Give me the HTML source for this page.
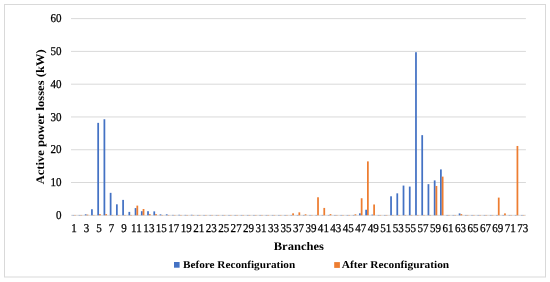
<!DOCTYPE html>
<html><head><meta charset="utf-8"><style>
html,body{margin:0;padding:0;background:#fff;}
text{text-rendering:geometricPrecision;}
body{width:550px;height:282px;overflow:hidden;position:relative;}
svg{position:absolute;left:0;top:0;}
.t{font-family:"Liberation Serif",serif;font-size:12px;fill:#000;stroke:#000;stroke-width:0.25px;}
.b{font-family:"Liberation Serif",serif;font-weight:bold;fill:#000;}
</style></head><body>
<svg width="550" height="282" viewBox="0 0 550 282">
<rect x="0" y="0" width="550" height="282" fill="#fff"/>
<rect x="4.5" y="4.5" width="541" height="272.5" fill="none" stroke="#d9d9d9" stroke-width="1"/>
<line x1="71.00" y1="215.30" x2="525.90" y2="215.30" stroke="#d9d9d9" stroke-width="1"/>
<text transform="translate(61.5,218.90) scale(0.92,1)" text-anchor="end" class="t">0</text>
<line x1="71.00" y1="182.52" x2="525.90" y2="182.52" stroke="#d9d9d9" stroke-width="1"/>
<text transform="translate(61.5,186.12) scale(0.92,1)" text-anchor="end" class="t">10</text>
<line x1="71.00" y1="149.74" x2="525.90" y2="149.74" stroke="#d9d9d9" stroke-width="1"/>
<text transform="translate(61.5,153.34) scale(0.92,1)" text-anchor="end" class="t">20</text>
<line x1="71.00" y1="116.96" x2="525.90" y2="116.96" stroke="#d9d9d9" stroke-width="1"/>
<text transform="translate(61.5,120.56) scale(0.92,1)" text-anchor="end" class="t">30</text>
<line x1="71.00" y1="84.18" x2="525.90" y2="84.18" stroke="#d9d9d9" stroke-width="1"/>
<text transform="translate(61.5,87.78) scale(0.92,1)" text-anchor="end" class="t">40</text>
<line x1="71.00" y1="51.40" x2="525.90" y2="51.40" stroke="#d9d9d9" stroke-width="1"/>
<text transform="translate(61.5,55.00) scale(0.92,1)" text-anchor="end" class="t">50</text>
<line x1="71.00" y1="18.62" x2="525.90" y2="18.62" stroke="#d9d9d9" stroke-width="1"/>
<text transform="translate(61.5,22.22) scale(0.92,1)" text-anchor="end" class="t">60</text>
<rect x="72.37" y="214.97" width="1.75" height="0.33" fill="#4472c4"/>
<rect x="74.12" y="214.97" width="1.75" height="0.33" fill="#ed7d31"/>
<text transform="translate(74.12,232.2) scale(0.92,1)" text-anchor="middle" class="t">1</text>
<rect x="78.60" y="214.97" width="1.75" height="0.33" fill="#4472c4"/>
<rect x="80.35" y="214.97" width="1.75" height="0.33" fill="#ed7d31"/>
<rect x="84.83" y="214.32" width="1.75" height="0.98" fill="#4472c4"/>
<rect x="86.58" y="214.64" width="1.75" height="0.66" fill="#ed7d31"/>
<text transform="translate(86.58,232.2) scale(0.92,1)" text-anchor="middle" class="t">3</text>
<rect x="91.06" y="209.24" width="1.75" height="6.06" fill="#4472c4"/>
<rect x="92.81" y="214.97" width="1.75" height="0.33" fill="#ed7d31"/>
<rect x="97.29" y="122.86" width="1.75" height="92.44" fill="#4472c4"/>
<rect x="99.04" y="214.15" width="1.75" height="1.15" fill="#ed7d31"/>
<text transform="translate(99.04,232.2) scale(0.92,1)" text-anchor="middle" class="t">5</text>
<rect x="103.52" y="119.25" width="1.75" height="96.05" fill="#4472c4"/>
<rect x="105.27" y="214.15" width="1.75" height="1.15" fill="#ed7d31"/>
<rect x="109.75" y="192.85" width="1.75" height="22.45" fill="#4472c4"/>
<rect x="111.50" y="214.97" width="1.75" height="0.33" fill="#ed7d31"/>
<text transform="translate(111.50,232.2) scale(0.92,1)" text-anchor="middle" class="t">7</text>
<rect x="115.99" y="204.32" width="1.75" height="10.98" fill="#4472c4"/>
<rect x="117.74" y="214.97" width="1.75" height="0.33" fill="#ed7d31"/>
<rect x="122.22" y="199.89" width="1.75" height="15.41" fill="#4472c4"/>
<rect x="123.97" y="214.97" width="1.75" height="0.33" fill="#ed7d31"/>
<text transform="translate(123.97,232.2) scale(0.92,1)" text-anchor="middle" class="t">9</text>
<rect x="128.45" y="211.89" width="1.75" height="3.41" fill="#4472c4"/>
<rect x="130.20" y="214.97" width="1.75" height="0.33" fill="#ed7d31"/>
<rect x="134.68" y="208.09" width="1.75" height="7.21" fill="#4472c4"/>
<rect x="136.43" y="205.60" width="1.75" height="9.70" fill="#ed7d31"/>
<text transform="translate(136.43,232.2) scale(0.92,1)" text-anchor="middle" class="t">11</text>
<rect x="140.91" y="211.20" width="1.75" height="4.10" fill="#4472c4"/>
<rect x="142.66" y="209.01" width="1.75" height="6.29" fill="#ed7d31"/>
<rect x="147.14" y="211.20" width="1.75" height="4.10" fill="#4472c4"/>
<rect x="148.89" y="214.15" width="1.75" height="1.15" fill="#ed7d31"/>
<text transform="translate(148.89,232.2) scale(0.92,1)" text-anchor="middle" class="t">13</text>
<rect x="153.38" y="211.37" width="1.75" height="3.93" fill="#4472c4"/>
<rect x="155.13" y="214.15" width="1.75" height="1.15" fill="#ed7d31"/>
<rect x="159.61" y="214.38" width="1.75" height="0.92" fill="#4472c4"/>
<rect x="161.36" y="214.97" width="1.75" height="0.33" fill="#ed7d31"/>
<text transform="translate(161.36,232.2) scale(0.92,1)" text-anchor="middle" class="t">15</text>
<rect x="165.84" y="214.32" width="1.75" height="0.98" fill="#4472c4"/>
<rect x="167.59" y="214.97" width="1.75" height="0.33" fill="#ed7d31"/>
<rect x="172.07" y="214.91" width="1.75" height="0.39" fill="#4472c4"/>
<rect x="173.82" y="214.97" width="1.75" height="0.33" fill="#ed7d31"/>
<text transform="translate(173.82,232.2) scale(0.92,1)" text-anchor="middle" class="t">17</text>
<rect x="178.30" y="214.81" width="1.75" height="0.49" fill="#4472c4"/>
<rect x="180.05" y="214.97" width="1.75" height="0.33" fill="#ed7d31"/>
<rect x="184.53" y="214.91" width="1.75" height="0.39" fill="#4472c4"/>
<rect x="186.28" y="214.97" width="1.75" height="0.33" fill="#ed7d31"/>
<text transform="translate(186.28,232.2) scale(0.92,1)" text-anchor="middle" class="t">19</text>
<rect x="190.76" y="214.81" width="1.75" height="0.49" fill="#4472c4"/>
<rect x="192.51" y="214.97" width="1.75" height="0.33" fill="#ed7d31"/>
<rect x="197.00" y="214.97" width="1.75" height="0.33" fill="#4472c4"/>
<rect x="198.75" y="214.97" width="1.75" height="0.33" fill="#ed7d31"/>
<text transform="translate(198.75,232.2) scale(0.92,1)" text-anchor="middle" class="t">21</text>
<rect x="203.23" y="214.97" width="1.75" height="0.33" fill="#4472c4"/>
<rect x="204.98" y="214.97" width="1.75" height="0.33" fill="#ed7d31"/>
<rect x="209.46" y="214.97" width="1.75" height="0.33" fill="#4472c4"/>
<rect x="211.21" y="214.97" width="1.75" height="0.33" fill="#ed7d31"/>
<text transform="translate(211.21,232.2) scale(0.92,1)" text-anchor="middle" class="t">23</text>
<rect x="215.69" y="214.97" width="1.75" height="0.33" fill="#4472c4"/>
<rect x="217.44" y="214.97" width="1.75" height="0.33" fill="#ed7d31"/>
<rect x="221.92" y="214.97" width="1.75" height="0.33" fill="#4472c4"/>
<rect x="223.67" y="214.97" width="1.75" height="0.33" fill="#ed7d31"/>
<text transform="translate(223.67,232.2) scale(0.92,1)" text-anchor="middle" class="t">25</text>
<rect x="228.15" y="214.97" width="1.75" height="0.33" fill="#4472c4"/>
<rect x="229.90" y="214.97" width="1.75" height="0.33" fill="#ed7d31"/>
<rect x="234.38" y="214.97" width="1.75" height="0.33" fill="#4472c4"/>
<rect x="236.13" y="214.97" width="1.75" height="0.33" fill="#ed7d31"/>
<text transform="translate(236.13,232.2) scale(0.92,1)" text-anchor="middle" class="t">27</text>
<rect x="240.62" y="214.97" width="1.75" height="0.33" fill="#4472c4"/>
<rect x="242.37" y="214.97" width="1.75" height="0.33" fill="#ed7d31"/>
<rect x="246.85" y="214.97" width="1.75" height="0.33" fill="#4472c4"/>
<rect x="248.60" y="214.97" width="1.75" height="0.33" fill="#ed7d31"/>
<text transform="translate(248.60,232.2) scale(0.92,1)" text-anchor="middle" class="t">29</text>
<rect x="253.08" y="214.97" width="1.75" height="0.33" fill="#4472c4"/>
<rect x="254.83" y="214.97" width="1.75" height="0.33" fill="#ed7d31"/>
<rect x="259.31" y="214.97" width="1.75" height="0.33" fill="#4472c4"/>
<rect x="261.06" y="214.97" width="1.75" height="0.33" fill="#ed7d31"/>
<text transform="translate(261.06,232.2) scale(0.92,1)" text-anchor="middle" class="t">31</text>
<rect x="265.54" y="214.97" width="1.75" height="0.33" fill="#4472c4"/>
<rect x="267.29" y="214.97" width="1.75" height="0.33" fill="#ed7d31"/>
<rect x="271.77" y="214.97" width="1.75" height="0.33" fill="#4472c4"/>
<rect x="273.52" y="214.97" width="1.75" height="0.33" fill="#ed7d31"/>
<text transform="translate(273.52,232.2) scale(0.92,1)" text-anchor="middle" class="t">33</text>
<rect x="278.01" y="214.97" width="1.75" height="0.33" fill="#4472c4"/>
<rect x="279.76" y="214.97" width="1.75" height="0.33" fill="#ed7d31"/>
<rect x="284.24" y="214.97" width="1.75" height="0.33" fill="#4472c4"/>
<rect x="285.99" y="214.97" width="1.75" height="0.33" fill="#ed7d31"/>
<text transform="translate(285.99,232.2) scale(0.92,1)" text-anchor="middle" class="t">35</text>
<rect x="290.47" y="214.97" width="1.75" height="0.33" fill="#4472c4"/>
<rect x="292.22" y="213.33" width="1.75" height="1.97" fill="#ed7d31"/>
<rect x="296.70" y="214.97" width="1.75" height="0.33" fill="#4472c4"/>
<rect x="298.45" y="212.35" width="1.75" height="2.95" fill="#ed7d31"/>
<text transform="translate(298.45,232.2) scale(0.92,1)" text-anchor="middle" class="t">37</text>
<rect x="302.93" y="214.97" width="1.75" height="0.33" fill="#4472c4"/>
<rect x="304.68" y="214.32" width="1.75" height="0.98" fill="#ed7d31"/>
<rect x="309.16" y="214.97" width="1.75" height="0.33" fill="#4472c4"/>
<rect x="310.91" y="214.97" width="1.75" height="0.33" fill="#ed7d31"/>
<text transform="translate(310.91,232.2) scale(0.92,1)" text-anchor="middle" class="t">39</text>
<rect x="315.39" y="214.97" width="1.75" height="0.33" fill="#4472c4"/>
<rect x="317.14" y="197.27" width="1.75" height="18.03" fill="#ed7d31"/>
<rect x="321.63" y="214.97" width="1.75" height="0.33" fill="#4472c4"/>
<rect x="323.38" y="207.92" width="1.75" height="7.38" fill="#ed7d31"/>
<text transform="translate(323.38,232.2) scale(0.92,1)" text-anchor="middle" class="t">41</text>
<rect x="327.86" y="214.97" width="1.75" height="0.33" fill="#4472c4"/>
<rect x="329.61" y="214.15" width="1.75" height="1.15" fill="#ed7d31"/>
<rect x="334.09" y="214.97" width="1.75" height="0.33" fill="#4472c4"/>
<rect x="335.84" y="214.97" width="1.75" height="0.33" fill="#ed7d31"/>
<text transform="translate(335.84,232.2) scale(0.92,1)" text-anchor="middle" class="t">43</text>
<rect x="340.32" y="214.97" width="1.75" height="0.33" fill="#4472c4"/>
<rect x="342.07" y="214.97" width="1.75" height="0.33" fill="#ed7d31"/>
<rect x="346.55" y="214.97" width="1.75" height="0.33" fill="#4472c4"/>
<rect x="348.30" y="214.97" width="1.75" height="0.33" fill="#ed7d31"/>
<text transform="translate(348.30,232.2) scale(0.92,1)" text-anchor="middle" class="t">45</text>
<rect x="352.78" y="214.97" width="1.75" height="0.33" fill="#4472c4"/>
<rect x="354.53" y="214.32" width="1.75" height="0.98" fill="#ed7d31"/>
<rect x="359.02" y="213.33" width="1.75" height="1.97" fill="#4472c4"/>
<rect x="360.77" y="198.25" width="1.75" height="17.05" fill="#ed7d31"/>
<text transform="translate(360.77,232.2) scale(0.92,1)" text-anchor="middle" class="t">47</text>
<rect x="365.25" y="209.73" width="1.75" height="5.57" fill="#4472c4"/>
<rect x="367.00" y="161.38" width="1.75" height="53.92" fill="#ed7d31"/>
<rect x="371.48" y="214.64" width="1.75" height="0.66" fill="#4472c4"/>
<rect x="373.23" y="204.48" width="1.75" height="10.82" fill="#ed7d31"/>
<text transform="translate(373.23,232.2) scale(0.92,1)" text-anchor="middle" class="t">49</text>
<rect x="377.71" y="214.97" width="1.75" height="0.33" fill="#4472c4"/>
<rect x="379.46" y="214.97" width="1.75" height="0.33" fill="#ed7d31"/>
<rect x="383.94" y="214.97" width="1.75" height="0.33" fill="#4472c4"/>
<rect x="385.69" y="214.97" width="1.75" height="0.33" fill="#ed7d31"/>
<text transform="translate(385.69,232.2) scale(0.92,1)" text-anchor="middle" class="t">51</text>
<rect x="390.17" y="196.29" width="1.75" height="19.01" fill="#4472c4"/>
<rect x="391.92" y="214.97" width="1.75" height="0.33" fill="#ed7d31"/>
<rect x="396.40" y="193.34" width="1.75" height="21.96" fill="#4472c4"/>
<rect x="398.15" y="214.97" width="1.75" height="0.33" fill="#ed7d31"/>
<text transform="translate(398.15,232.2) scale(0.92,1)" text-anchor="middle" class="t">53</text>
<rect x="402.64" y="185.57" width="1.75" height="29.73" fill="#4472c4"/>
<rect x="404.39" y="214.97" width="1.75" height="0.33" fill="#ed7d31"/>
<rect x="408.87" y="186.58" width="1.75" height="28.72" fill="#4472c4"/>
<rect x="410.62" y="214.97" width="1.75" height="0.33" fill="#ed7d31"/>
<text transform="translate(410.62,232.2) scale(0.92,1)" text-anchor="middle" class="t">55</text>
<rect x="415.10" y="52.22" width="1.75" height="163.08" fill="#4472c4"/>
<rect x="416.85" y="214.97" width="1.75" height="0.33" fill="#ed7d31"/>
<rect x="421.33" y="135.15" width="1.75" height="80.15" fill="#4472c4"/>
<rect x="423.08" y="214.97" width="1.75" height="0.33" fill="#ed7d31"/>
<text transform="translate(423.08,232.2) scale(0.92,1)" text-anchor="middle" class="t">57</text>
<rect x="427.56" y="184.16" width="1.75" height="31.14" fill="#4472c4"/>
<rect x="429.31" y="214.97" width="1.75" height="0.33" fill="#ed7d31"/>
<rect x="433.79" y="180.39" width="1.75" height="34.91" fill="#4472c4"/>
<rect x="435.54" y="185.96" width="1.75" height="29.34" fill="#ed7d31"/>
<text transform="translate(435.54,232.2) scale(0.92,1)" text-anchor="middle" class="t">59</text>
<rect x="440.02" y="169.41" width="1.75" height="45.89" fill="#4472c4"/>
<rect x="441.77" y="176.62" width="1.75" height="38.68" fill="#ed7d31"/>
<rect x="446.26" y="214.97" width="1.75" height="0.33" fill="#4472c4"/>
<rect x="448.01" y="214.97" width="1.75" height="0.33" fill="#ed7d31"/>
<text transform="translate(448.01,232.2) scale(0.92,1)" text-anchor="middle" class="t">61</text>
<rect x="452.49" y="214.97" width="1.75" height="0.33" fill="#4472c4"/>
<rect x="454.24" y="214.97" width="1.75" height="0.33" fill="#ed7d31"/>
<rect x="458.72" y="213.40" width="1.75" height="1.90" fill="#4472c4"/>
<rect x="460.47" y="214.15" width="1.75" height="1.15" fill="#ed7d31"/>
<text transform="translate(460.47,232.2) scale(0.92,1)" text-anchor="middle" class="t">63</text>
<rect x="464.95" y="214.97" width="1.75" height="0.33" fill="#4472c4"/>
<rect x="466.70" y="214.97" width="1.75" height="0.33" fill="#ed7d31"/>
<rect x="471.18" y="214.97" width="1.75" height="0.33" fill="#4472c4"/>
<rect x="472.93" y="214.97" width="1.75" height="0.33" fill="#ed7d31"/>
<text transform="translate(472.93,232.2) scale(0.92,1)" text-anchor="middle" class="t">65</text>
<rect x="477.41" y="214.97" width="1.75" height="0.33" fill="#4472c4"/>
<rect x="479.16" y="214.97" width="1.75" height="0.33" fill="#ed7d31"/>
<rect x="483.65" y="214.97" width="1.75" height="0.33" fill="#4472c4"/>
<rect x="485.40" y="214.97" width="1.75" height="0.33" fill="#ed7d31"/>
<text transform="translate(485.40,232.2) scale(0.92,1)" text-anchor="middle" class="t">67</text>
<rect x="489.88" y="214.97" width="1.75" height="0.33" fill="#4472c4"/>
<rect x="491.63" y="214.97" width="1.75" height="0.33" fill="#ed7d31"/>
<rect x="496.11" y="214.97" width="1.75" height="0.33" fill="#4472c4"/>
<rect x="497.86" y="197.60" width="1.75" height="17.70" fill="#ed7d31"/>
<text transform="translate(497.86,232.2) scale(0.92,1)" text-anchor="middle" class="t">69</text>
<rect x="502.34" y="214.97" width="1.75" height="0.33" fill="#4472c4"/>
<rect x="504.09" y="213.40" width="1.75" height="1.90" fill="#ed7d31"/>
<rect x="508.57" y="214.97" width="1.75" height="0.33" fill="#4472c4"/>
<rect x="510.32" y="214.97" width="1.75" height="0.33" fill="#ed7d31"/>
<text transform="translate(510.32,232.2) scale(0.92,1)" text-anchor="middle" class="t">71</text>
<rect x="514.80" y="214.97" width="1.75" height="0.33" fill="#4472c4"/>
<rect x="516.55" y="145.97" width="1.75" height="69.33" fill="#ed7d31"/>
<rect x="521.03" y="214.97" width="1.75" height="0.33" fill="#4472c4"/>
<rect x="522.78" y="214.97" width="1.75" height="0.33" fill="#ed7d31"/>
<text transform="translate(522.78,232.2) scale(0.92,1)" text-anchor="middle" class="t">73</text>
<text class="b" font-size="11.6" transform="translate(43.6,116.85) rotate(-90)" text-anchor="middle" textLength="135.0" lengthAdjust="spacingAndGlyphs">Active power losses (kW)</text>
<text class="b" font-size="11.6" x="298.8" y="249.7" text-anchor="middle" textLength="50.2" lengthAdjust="spacingAndGlyphs">Branches</text>
<rect x="174" y="262" width="5.6" height="5.7" fill="#4472c4"/>
<text class="b" font-size="10.5" x="183.0" y="268.2" textLength="112.2" lengthAdjust="spacingAndGlyphs">Before Reconfiguration</text>
<rect x="334.2" y="262.1" width="5.7" height="5.8" fill="#ed7d31"/>
<text class="b" font-size="10.5" x="341.8" y="268.2" textLength="107.4" lengthAdjust="spacingAndGlyphs">After Reconfiguration</text>
</svg>
</body></html>
